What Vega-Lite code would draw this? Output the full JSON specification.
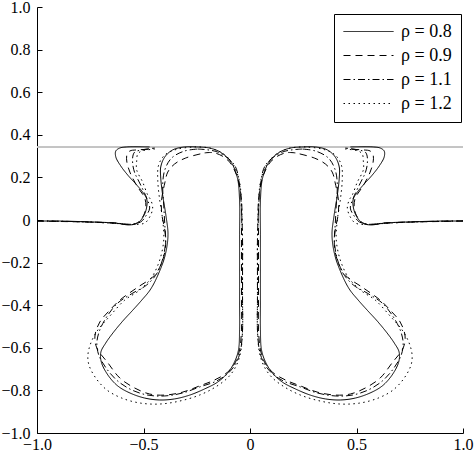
{
  "$schema": "https://vega.github.io/schema/vega-lite/v6.json",
  "width": 426,
  "height": 426,
  "autosize": "none",
  "padding": {"left": 37, "top": 7, "right": 11, "bottom": 19},
  "background": "white",
  "view": {"stroke": null},
  "config": {
    "axis": {
      "grid": false,
      "title": null,
      "domainColor": "black",
      "tickColor": "black",
      "tickSize": -5,
      "labelFont": "Liberation Serif, Times New Roman, DejaVu Serif, serif",
      "labelFontSize": 16,
      "labelColor": "black"
    }
  },
  "data": {
    "values": [
      {"rho": "0.8", "part": "Lear", "i": 0, "x": -1.0, "y": -0.005},
      {"rho": "0.8", "part": "Lear", "i": 1, "x": -0.892, "y": -0.005},
      {"rho": "0.8", "part": "Lear", "i": 2, "x": -0.752, "y": -0.009},
      {"rho": "0.8", "part": "Lear", "i": 3, "x": -0.635, "y": -0.014},
      {"rho": "0.8", "part": "Lear", "i": 4, "x": -0.564, "y": -0.023},
      {"rho": "0.8", "part": "Lear", "i": 5, "x": -0.527, "y": -0.014},
      {"rho": "0.8", "part": "Lear", "i": 6, "x": -0.499, "y": 0.019},
      {"rho": "0.8", "part": "Lear", "i": 7, "x": -0.485, "y": 0.061},
      {"rho": "0.8", "part": "Lear", "i": 8, "x": -0.485, "y": 0.099},
      {"rho": "0.8", "part": "Lear", "i": 9, "x": -0.504, "y": 0.131},
      {"rho": "0.8", "part": "Lear", "i": 10, "x": -0.536, "y": 0.169},
      {"rho": "0.8", "part": "Lear", "i": 11, "x": -0.574, "y": 0.211},
      {"rho": "0.8", "part": "Lear", "i": 12, "x": -0.607, "y": 0.254},
      {"rho": "0.8", "part": "Lear", "i": 13, "x": -0.630, "y": 0.296},
      {"rho": "0.8", "part": "Lear", "i": 14, "x": -0.630, "y": 0.324},
      {"rho": "0.8", "part": "Lear", "i": 15, "x": -0.611, "y": 0.338},
      {"rho": "0.8", "part": "Lear", "i": 16, "x": -0.578, "y": 0.343},
      {"rho": "0.8", "part": "Lear", "i": 17, "x": -0.471, "y": 0.343},

      {"rho": "0.8", "part": "Rear", "i": 0, "x": 1.0, "y": -0.005},
      {"rho": "0.8", "part": "Rear", "i": 1, "x": 0.892, "y": -0.005},
      {"rho": "0.8", "part": "Rear", "i": 2, "x": 0.752, "y": -0.009},
      {"rho": "0.8", "part": "Rear", "i": 3, "x": 0.635, "y": -0.014},
      {"rho": "0.8", "part": "Rear", "i": 4, "x": 0.564, "y": -0.023},
      {"rho": "0.8", "part": "Rear", "i": 5, "x": 0.527, "y": -0.014},
      {"rho": "0.8", "part": "Rear", "i": 6, "x": 0.499, "y": 0.019},
      {"rho": "0.8", "part": "Rear", "i": 7, "x": 0.485, "y": 0.061},
      {"rho": "0.8", "part": "Rear", "i": 8, "x": 0.485, "y": 0.099},
      {"rho": "0.8", "part": "Rear", "i": 9, "x": 0.504, "y": 0.131},
      {"rho": "0.8", "part": "Rear", "i": 10, "x": 0.536, "y": 0.169},
      {"rho": "0.8", "part": "Rear", "i": 11, "x": 0.574, "y": 0.211},
      {"rho": "0.8", "part": "Rear", "i": 12, "x": 0.607, "y": 0.254},
      {"rho": "0.8", "part": "Rear", "i": 13, "x": 0.630, "y": 0.296},
      {"rho": "0.8", "part": "Rear", "i": 14, "x": 0.630, "y": 0.324},
      {"rho": "0.8", "part": "Rear", "i": 15, "x": 0.611, "y": 0.338},
      {"rho": "0.8", "part": "Rear", "i": 16, "x": 0.578, "y": 0.343},
      {"rho": "0.8", "part": "Rear", "i": 17, "x": 0.471, "y": 0.343},

      {"rho": "0.8", "part": "Llobe", "i": 0, "x": -0.251, "y": 0.343},
      {"rho": "0.8", "part": "Llobe", "i": 1, "x": -0.190, "y": 0.338},
      {"rho": "0.8", "part": "Llobe", "i": 2, "x": -0.133, "y": 0.315},
      {"rho": "0.8", "part": "Llobe", "i": 3, "x": -0.087, "y": 0.268},
      {"rho": "0.8", "part": "Llobe", "i": 4, "x": -0.059, "y": 0.197},
      {"rho": "0.8", "part": "Llobe", "i": 5, "x": -0.049, "y": 0.094},
      {"rho": "0.8", "part": "Llobe", "i": 6, "x": -0.049, "y": -0.070},
      {"rho": "0.8", "part": "Llobe", "i": 7, "x": -0.049, "y": -0.235},
      {"rho": "0.8", "part": "Llobe", "i": 8, "x": -0.049, "y": -0.376},
      {"rho": "0.8", "part": "Llobe", "i": 9, "x": -0.049, "y": -0.516},
      {"rho": "0.8", "part": "Llobe", "i": 10, "x": -0.054, "y": -0.610},
      {"rho": "0.8", "part": "Llobe", "i": 11, "x": -0.073, "y": -0.667},
      {"rho": "0.8", "part": "Llobe", "i": 12, "x": -0.105, "y": -0.718},
      {"rho": "0.8", "part": "Llobe", "i": 13, "x": -0.152, "y": -0.761},
      {"rho": "0.8", "part": "Llobe", "i": 14, "x": -0.213, "y": -0.793},
      {"rho": "0.8", "part": "Llobe", "i": 15, "x": -0.283, "y": -0.822},
      {"rho": "0.8", "part": "Llobe", "i": 16, "x": -0.354, "y": -0.840},
      {"rho": "0.8", "part": "Llobe", "i": 17, "x": -0.424, "y": -0.845},
      {"rho": "0.8", "part": "Llobe", "i": 18, "x": -0.494, "y": -0.836},
      {"rho": "0.8", "part": "Llobe", "i": 19, "x": -0.564, "y": -0.812},
      {"rho": "0.8", "part": "Llobe", "i": 20, "x": -0.621, "y": -0.779},
      {"rho": "0.8", "part": "Llobe", "i": 21, "x": -0.667, "y": -0.728},
      {"rho": "0.8", "part": "Llobe", "i": 22, "x": -0.698, "y": -0.667},
      {"rho": "0.8", "part": "Llobe", "i": 23, "x": -0.700, "y": -0.620},
      {"rho": "0.8", "part": "Llobe", "i": 24, "x": -0.677, "y": -0.577},
      {"rho": "0.8", "part": "Llobe", "i": 25, "x": -0.644, "y": -0.531},
      {"rho": "0.8", "part": "Llobe", "i": 26, "x": -0.597, "y": -0.474},
      {"rho": "0.8", "part": "Llobe", "i": 27, "x": -0.550, "y": -0.423},
      {"rho": "0.8", "part": "Llobe", "i": 28, "x": -0.508, "y": -0.376},
      {"rho": "0.8", "part": "Llobe", "i": 29, "x": -0.466, "y": -0.324},
      {"rho": "0.8", "part": "Llobe", "i": 30, "x": -0.426, "y": -0.244},
      {"rho": "0.8", "part": "Llobe", "i": 31, "x": -0.398, "y": -0.164},
      {"rho": "0.8", "part": "Llobe", "i": 32, "x": -0.385, "y": -0.070},
      {"rho": "0.8", "part": "Llobe", "i": 33, "x": -0.395, "y": 0.023},
      {"rho": "0.8", "part": "Llobe", "i": 34, "x": -0.410, "y": 0.117},
      {"rho": "0.8", "part": "Llobe", "i": 35, "x": -0.419, "y": 0.197},
      {"rho": "0.8", "part": "Llobe", "i": 36, "x": -0.419, "y": 0.249},
      {"rho": "0.8", "part": "Llobe", "i": 37, "x": -0.400, "y": 0.296},
      {"rho": "0.8", "part": "Llobe", "i": 38, "x": -0.363, "y": 0.329},
      {"rho": "0.8", "part": "Llobe", "i": 39, "x": -0.307, "y": 0.343},
      {"rho": "0.8", "part": "Llobe", "i": 40, "x": -0.251, "y": 0.343},

      {"rho": "0.8", "part": "Rlobe", "i": 0, "x": 0.251, "y": 0.343},
      {"rho": "0.8", "part": "Rlobe", "i": 1, "x": 0.190, "y": 0.338},
      {"rho": "0.8", "part": "Rlobe", "i": 2, "x": 0.133, "y": 0.315},
      {"rho": "0.8", "part": "Rlobe", "i": 3, "x": 0.087, "y": 0.268},
      {"rho": "0.8", "part": "Rlobe", "i": 4, "x": 0.059, "y": 0.197},
      {"rho": "0.8", "part": "Rlobe", "i": 5, "x": 0.049, "y": 0.094},
      {"rho": "0.8", "part": "Rlobe", "i": 6, "x": 0.049, "y": -0.070},
      {"rho": "0.8", "part": "Rlobe", "i": 7, "x": 0.049, "y": -0.235},
      {"rho": "0.8", "part": "Rlobe", "i": 8, "x": 0.049, "y": -0.376},
      {"rho": "0.8", "part": "Rlobe", "i": 9, "x": 0.049, "y": -0.516},
      {"rho": "0.8", "part": "Rlobe", "i": 10, "x": 0.054, "y": -0.610},
      {"rho": "0.8", "part": "Rlobe", "i": 11, "x": 0.073, "y": -0.667},
      {"rho": "0.8", "part": "Rlobe", "i": 12, "x": 0.105, "y": -0.718},
      {"rho": "0.8", "part": "Rlobe", "i": 13, "x": 0.152, "y": -0.761},
      {"rho": "0.8", "part": "Rlobe", "i": 14, "x": 0.213, "y": -0.793},
      {"rho": "0.8", "part": "Rlobe", "i": 15, "x": 0.283, "y": -0.822},
      {"rho": "0.8", "part": "Rlobe", "i": 16, "x": 0.354, "y": -0.840},
      {"rho": "0.8", "part": "Rlobe", "i": 17, "x": 0.424, "y": -0.845},
      {"rho": "0.8", "part": "Rlobe", "i": 18, "x": 0.494, "y": -0.836},
      {"rho": "0.8", "part": "Rlobe", "i": 19, "x": 0.564, "y": -0.812},
      {"rho": "0.8", "part": "Rlobe", "i": 20, "x": 0.621, "y": -0.779},
      {"rho": "0.8", "part": "Rlobe", "i": 21, "x": 0.667, "y": -0.728},
      {"rho": "0.8", "part": "Rlobe", "i": 22, "x": 0.698, "y": -0.667},
      {"rho": "0.8", "part": "Rlobe", "i": 23, "x": 0.700, "y": -0.620},
      {"rho": "0.8", "part": "Rlobe", "i": 24, "x": 0.677, "y": -0.577},
      {"rho": "0.8", "part": "Rlobe", "i": 25, "x": 0.644, "y": -0.531},
      {"rho": "0.8", "part": "Rlobe", "i": 26, "x": 0.597, "y": -0.474},
      {"rho": "0.8", "part": "Rlobe", "i": 27, "x": 0.550, "y": -0.423},
      {"rho": "0.8", "part": "Rlobe", "i": 28, "x": 0.508, "y": -0.376},
      {"rho": "0.8", "part": "Rlobe", "i": 29, "x": 0.466, "y": -0.324},
      {"rho": "0.8", "part": "Rlobe", "i": 30, "x": 0.426, "y": -0.244},
      {"rho": "0.8", "part": "Rlobe", "i": 31, "x": 0.398, "y": -0.164},
      {"rho": "0.8", "part": "Rlobe", "i": 32, "x": 0.385, "y": -0.070},
      {"rho": "0.8", "part": "Rlobe", "i": 33, "x": 0.395, "y": 0.023},
      {"rho": "0.8", "part": "Rlobe", "i": 34, "x": 0.410, "y": 0.117},
      {"rho": "0.8", "part": "Rlobe", "i": 35, "x": 0.419, "y": 0.197},
      {"rho": "0.8", "part": "Rlobe", "i": 36, "x": 0.419, "y": 0.249},
      {"rho": "0.8", "part": "Rlobe", "i": 37, "x": 0.400, "y": 0.296},
      {"rho": "0.8", "part": "Rlobe", "i": 38, "x": 0.363, "y": 0.329},
      {"rho": "0.8", "part": "Rlobe", "i": 39, "x": 0.307, "y": 0.343},
      {"rho": "0.8", "part": "Rlobe", "i": 40, "x": 0.251, "y": 0.343},

      {"rho": "0.9", "part": "Lear", "i": 0, "x": -1.0, "y": -0.005},
      {"rho": "0.9", "part": "Lear", "i": 1, "x": -0.892, "y": -0.007},
      {"rho": "0.9", "part": "Lear", "i": 2, "x": -0.752, "y": -0.010},
      {"rho": "0.9", "part": "Lear", "i": 3, "x": -0.635, "y": -0.015},
      {"rho": "0.9", "part": "Lear", "i": 4, "x": -0.564, "y": -0.021},
      {"rho": "0.9", "part": "Lear", "i": 5, "x": -0.527, "y": -0.012},
      {"rho": "0.9", "part": "Lear", "i": 6, "x": -0.499, "y": 0.023},
      {"rho": "0.9", "part": "Lear", "i": 7, "x": -0.489, "y": 0.061},
      {"rho": "0.9", "part": "Lear", "i": 8, "x": -0.494, "y": 0.103},
      {"rho": "0.9", "part": "Lear", "i": 9, "x": -0.518, "y": 0.141},
      {"rho": "0.9", "part": "Lear", "i": 10, "x": -0.541, "y": 0.178},
      {"rho": "0.9", "part": "Lear", "i": 11, "x": -0.564, "y": 0.225},
      {"rho": "0.9", "part": "Lear", "i": 12, "x": -0.578, "y": 0.272},
      {"rho": "0.9", "part": "Lear", "i": 13, "x": -0.578, "y": 0.305},
      {"rho": "0.9", "part": "Lear", "i": 14, "x": -0.564, "y": 0.324},
      {"rho": "0.9", "part": "Lear", "i": 15, "x": -0.532, "y": 0.329},
      {"rho": "0.9", "part": "Lear", "i": 16, "x": -0.471, "y": 0.333},
      {"rho": "0.9", "part": "Lear", "i": 17, "x": -0.447, "y": 0.338},

      {"rho": "0.9", "part": "Rear", "i": 0, "x": 1.0, "y": -0.005},
      {"rho": "0.9", "part": "Rear", "i": 1, "x": 0.892, "y": -0.007},
      {"rho": "0.9", "part": "Rear", "i": 2, "x": 0.752, "y": -0.010},
      {"rho": "0.9", "part": "Rear", "i": 3, "x": 0.635, "y": -0.015},
      {"rho": "0.9", "part": "Rear", "i": 4, "x": 0.564, "y": -0.021},
      {"rho": "0.9", "part": "Rear", "i": 5, "x": 0.527, "y": -0.012},
      {"rho": "0.9", "part": "Rear", "i": 6, "x": 0.499, "y": 0.023},
      {"rho": "0.9", "part": "Rear", "i": 7, "x": 0.489, "y": 0.061},
      {"rho": "0.9", "part": "Rear", "i": 8, "x": 0.494, "y": 0.103},
      {"rho": "0.9", "part": "Rear", "i": 9, "x": 0.518, "y": 0.141},
      {"rho": "0.9", "part": "Rear", "i": 10, "x": 0.541, "y": 0.178},
      {"rho": "0.9", "part": "Rear", "i": 11, "x": 0.564, "y": 0.225},
      {"rho": "0.9", "part": "Rear", "i": 12, "x": 0.578, "y": 0.272},
      {"rho": "0.9", "part": "Rear", "i": 13, "x": 0.578, "y": 0.305},
      {"rho": "0.9", "part": "Rear", "i": 14, "x": 0.564, "y": 0.324},
      {"rho": "0.9", "part": "Rear", "i": 15, "x": 0.532, "y": 0.329},
      {"rho": "0.9", "part": "Rear", "i": 16, "x": 0.471, "y": 0.333},
      {"rho": "0.9", "part": "Rear", "i": 17, "x": 0.447, "y": 0.338},

      {"rho": "0.9", "part": "Llobe", "i": 0, "x": -0.213, "y": 0.315},
      {"rho": "0.9", "part": "Llobe", "i": 1, "x": -0.166, "y": 0.315},
      {"rho": "0.9", "part": "Llobe", "i": 2, "x": -0.105, "y": 0.282},
      {"rho": "0.9", "part": "Llobe", "i": 3, "x": -0.063, "y": 0.211},
      {"rho": "0.9", "part": "Llobe", "i": 4, "x": -0.040, "y": 0.094},
      {"rho": "0.9", "part": "Llobe", "i": 5, "x": -0.040, "y": -0.070},
      {"rho": "0.9", "part": "Llobe", "i": 6, "x": -0.040, "y": -0.235},
      {"rho": "0.9", "part": "Llobe", "i": 7, "x": -0.040, "y": -0.376},
      {"rho": "0.9", "part": "Llobe", "i": 8, "x": -0.040, "y": -0.516},
      {"rho": "0.9", "part": "Llobe", "i": 9, "x": -0.049, "y": -0.610},
      {"rho": "0.9", "part": "Llobe", "i": 10, "x": -0.068, "y": -0.667},
      {"rho": "0.9", "part": "Llobe", "i": 11, "x": -0.105, "y": -0.714},
      {"rho": "0.9", "part": "Llobe", "i": 12, "x": -0.166, "y": -0.751},
      {"rho": "0.9", "part": "Llobe", "i": 13, "x": -0.237, "y": -0.779},
      {"rho": "0.9", "part": "Llobe", "i": 14, "x": -0.316, "y": -0.808},
      {"rho": "0.9", "part": "Llobe", "i": 15, "x": -0.400, "y": -0.822},
      {"rho": "0.9", "part": "Llobe", "i": 16, "x": -0.471, "y": -0.817},
      {"rho": "0.9", "part": "Llobe", "i": 17, "x": -0.541, "y": -0.789},
      {"rho": "0.9", "part": "Llobe", "i": 18, "x": -0.611, "y": -0.742},
      {"rho": "0.9", "part": "Llobe", "i": 19, "x": -0.667, "y": -0.671},
      {"rho": "0.9", "part": "Llobe", "i": 20, "x": -0.719, "y": -0.601},
      {"rho": "0.9", "part": "Llobe", "i": 21, "x": -0.728, "y": -0.545},
      {"rho": "0.9", "part": "Llobe", "i": 22, "x": -0.705, "y": -0.479},
      {"rho": "0.9", "part": "Llobe", "i": 23, "x": -0.658, "y": -0.423},
      {"rho": "0.9", "part": "Llobe", "i": 24, "x": -0.611, "y": -0.376},
      {"rho": "0.9", "part": "Llobe", "i": 25, "x": -0.532, "y": -0.319},
      {"rho": "0.9", "part": "Llobe", "i": 26, "x": -0.447, "y": -0.258},
      {"rho": "0.9", "part": "Llobe", "i": 27, "x": -0.410, "y": -0.188},
      {"rho": "0.9", "part": "Llobe", "i": 28, "x": -0.396, "y": -0.117},
      {"rho": "0.9", "part": "Llobe", "i": 29, "x": -0.400, "y": -0.047},
      {"rho": "0.9", "part": "Llobe", "i": 30, "x": -0.415, "y": 0.033},
      {"rho": "0.9", "part": "Llobe", "i": 31, "x": -0.415, "y": 0.094},
      {"rho": "0.9", "part": "Llobe", "i": 32, "x": -0.400, "y": 0.174},
      {"rho": "0.9", "part": "Llobe", "i": 33, "x": -0.386, "y": 0.225},
      {"rho": "0.9", "part": "Llobe", "i": 34, "x": -0.354, "y": 0.263},
      {"rho": "0.9", "part": "Llobe", "i": 35, "x": -0.302, "y": 0.291},
      {"rho": "0.9", "part": "Llobe", "i": 36, "x": -0.213, "y": 0.315},

      {"rho": "0.9", "part": "Rlobe", "i": 0, "x": 0.213, "y": 0.315},
      {"rho": "0.9", "part": "Rlobe", "i": 1, "x": 0.166, "y": 0.315},
      {"rho": "0.9", "part": "Rlobe", "i": 2, "x": 0.105, "y": 0.282},
      {"rho": "0.9", "part": "Rlobe", "i": 3, "x": 0.063, "y": 0.211},
      {"rho": "0.9", "part": "Rlobe", "i": 4, "x": 0.040, "y": 0.094},
      {"rho": "0.9", "part": "Rlobe", "i": 5, "x": 0.040, "y": -0.070},
      {"rho": "0.9", "part": "Rlobe", "i": 6, "x": 0.040, "y": -0.235},
      {"rho": "0.9", "part": "Rlobe", "i": 7, "x": 0.040, "y": -0.376},
      {"rho": "0.9", "part": "Rlobe", "i": 8, "x": 0.040, "y": -0.516},
      {"rho": "0.9", "part": "Rlobe", "i": 9, "x": 0.049, "y": -0.610},
      {"rho": "0.9", "part": "Rlobe", "i": 10, "x": 0.068, "y": -0.667},
      {"rho": "0.9", "part": "Rlobe", "i": 11, "x": 0.105, "y": -0.714},
      {"rho": "0.9", "part": "Rlobe", "i": 12, "x": 0.166, "y": -0.751},
      {"rho": "0.9", "part": "Rlobe", "i": 13, "x": 0.237, "y": -0.779},
      {"rho": "0.9", "part": "Rlobe", "i": 14, "x": 0.316, "y": -0.808},
      {"rho": "0.9", "part": "Rlobe", "i": 15, "x": 0.400, "y": -0.822},
      {"rho": "0.9", "part": "Rlobe", "i": 16, "x": 0.471, "y": -0.817},
      {"rho": "0.9", "part": "Rlobe", "i": 17, "x": 0.541, "y": -0.789},
      {"rho": "0.9", "part": "Rlobe", "i": 18, "x": 0.611, "y": -0.742},
      {"rho": "0.9", "part": "Rlobe", "i": 19, "x": 0.667, "y": -0.671},
      {"rho": "0.9", "part": "Rlobe", "i": 20, "x": 0.719, "y": -0.601},
      {"rho": "0.9", "part": "Rlobe", "i": 21, "x": 0.728, "y": -0.545},
      {"rho": "0.9", "part": "Rlobe", "i": 22, "x": 0.705, "y": -0.479},
      {"rho": "0.9", "part": "Rlobe", "i": 23, "x": 0.658, "y": -0.423},
      {"rho": "0.9", "part": "Rlobe", "i": 24, "x": 0.611, "y": -0.376},
      {"rho": "0.9", "part": "Rlobe", "i": 25, "x": 0.532, "y": -0.319},
      {"rho": "0.9", "part": "Rlobe", "i": 26, "x": 0.447, "y": -0.258},
      {"rho": "0.9", "part": "Rlobe", "i": 27, "x": 0.410, "y": -0.188},
      {"rho": "0.9", "part": "Rlobe", "i": 28, "x": 0.396, "y": -0.117},
      {"rho": "0.9", "part": "Rlobe", "i": 29, "x": 0.400, "y": -0.047},
      {"rho": "0.9", "part": "Rlobe", "i": 30, "x": 0.415, "y": 0.033},
      {"rho": "0.9", "part": "Rlobe", "i": 31, "x": 0.415, "y": 0.094},
      {"rho": "0.9", "part": "Rlobe", "i": 32, "x": 0.400, "y": 0.174},
      {"rho": "0.9", "part": "Rlobe", "i": 33, "x": 0.386, "y": 0.225},
      {"rho": "0.9", "part": "Rlobe", "i": 34, "x": 0.354, "y": 0.263},
      {"rho": "0.9", "part": "Rlobe", "i": 35, "x": 0.302, "y": 0.291},
      {"rho": "0.9", "part": "Rlobe", "i": 36, "x": 0.213, "y": 0.315},

      {"rho": "1.1", "part": "Lear", "i": 0, "x": -1.0, "y": -0.004},
      {"rho": "1.1", "part": "Lear", "i": 1, "x": -0.892, "y": -0.006},
      {"rho": "1.1", "part": "Lear", "i": 2, "x": -0.752, "y": -0.009},
      {"rho": "1.1", "part": "Lear", "i": 3, "x": -0.635, "y": -0.014},
      {"rho": "1.1", "part": "Lear", "i": 4, "x": -0.555, "y": -0.020},
      {"rho": "1.1", "part": "Lear", "i": 5, "x": -0.513, "y": -0.009},
      {"rho": "1.1", "part": "Lear", "i": 6, "x": -0.489, "y": 0.019},
      {"rho": "1.1", "part": "Lear", "i": 7, "x": -0.471, "y": 0.056},
      {"rho": "1.1", "part": "Lear", "i": 8, "x": -0.485, "y": 0.103},
      {"rho": "1.1", "part": "Lear", "i": 9, "x": -0.518, "y": 0.174},
      {"rho": "1.1", "part": "Lear", "i": 10, "x": -0.541, "y": 0.221},
      {"rho": "1.1", "part": "Lear", "i": 11, "x": -0.550, "y": 0.258},
      {"rho": "1.1", "part": "Lear", "i": 12, "x": -0.550, "y": 0.300},
      {"rho": "1.1", "part": "Lear", "i": 13, "x": -0.541, "y": 0.319},
      {"rho": "1.1", "part": "Lear", "i": 14, "x": -0.508, "y": 0.329},
      {"rho": "1.1", "part": "Lear", "i": 15, "x": -0.447, "y": 0.338},

      {"rho": "1.1", "part": "Rear", "i": 0, "x": 1.0, "y": -0.004},
      {"rho": "1.1", "part": "Rear", "i": 1, "x": 0.892, "y": -0.006},
      {"rho": "1.1", "part": "Rear", "i": 2, "x": 0.752, "y": -0.009},
      {"rho": "1.1", "part": "Rear", "i": 3, "x": 0.635, "y": -0.014},
      {"rho": "1.1", "part": "Rear", "i": 4, "x": 0.555, "y": -0.020},
      {"rho": "1.1", "part": "Rear", "i": 5, "x": 0.513, "y": -0.009},
      {"rho": "1.1", "part": "Rear", "i": 6, "x": 0.489, "y": 0.019},
      {"rho": "1.1", "part": "Rear", "i": 7, "x": 0.471, "y": 0.056},
      {"rho": "1.1", "part": "Rear", "i": 8, "x": 0.485, "y": 0.103},
      {"rho": "1.1", "part": "Rear", "i": 9, "x": 0.518, "y": 0.174},
      {"rho": "1.1", "part": "Rear", "i": 10, "x": 0.541, "y": 0.221},
      {"rho": "1.1", "part": "Rear", "i": 11, "x": 0.550, "y": 0.258},
      {"rho": "1.1", "part": "Rear", "i": 12, "x": 0.550, "y": 0.300},
      {"rho": "1.1", "part": "Rear", "i": 13, "x": 0.541, "y": 0.319},
      {"rho": "1.1", "part": "Rear", "i": 14, "x": 0.508, "y": 0.329},
      {"rho": "1.1", "part": "Rear", "i": 15, "x": 0.447, "y": 0.338},

      {"rho": "1.1", "part": "Llobe", "i": 0, "x": -0.246, "y": 0.333},
      {"rho": "1.1", "part": "Llobe", "i": 1, "x": -0.152, "y": 0.319},
      {"rho": "1.1", "part": "Llobe", "i": 2, "x": -0.073, "y": 0.258},
      {"rho": "1.1", "part": "Llobe", "i": 3, "x": -0.049, "y": 0.164},
      {"rho": "1.1", "part": "Llobe", "i": 4, "x": -0.040, "y": 0.047},
      {"rho": "1.1", "part": "Llobe", "i": 5, "x": -0.035, "y": -0.094},
      {"rho": "1.1", "part": "Llobe", "i": 6, "x": -0.035, "y": -0.235},
      {"rho": "1.1", "part": "Llobe", "i": 7, "x": -0.035, "y": -0.376},
      {"rho": "1.1", "part": "Llobe", "i": 8, "x": -0.035, "y": -0.516},
      {"rho": "1.1", "part": "Llobe", "i": 9, "x": -0.044, "y": -0.610},
      {"rho": "1.1", "part": "Llobe", "i": 10, "x": -0.063, "y": -0.667},
      {"rho": "1.1", "part": "Llobe", "i": 11, "x": -0.101, "y": -0.718},
      {"rho": "1.1", "part": "Llobe", "i": 12, "x": -0.157, "y": -0.756},
      {"rho": "1.1", "part": "Llobe", "i": 13, "x": -0.237, "y": -0.784},
      {"rho": "1.1", "part": "Llobe", "i": 14, "x": -0.316, "y": -0.812},
      {"rho": "1.1", "part": "Llobe", "i": 15, "x": -0.400, "y": -0.826},
      {"rho": "1.1", "part": "Llobe", "i": 16, "x": -0.480, "y": -0.822},
      {"rho": "1.1", "part": "Llobe", "i": 17, "x": -0.555, "y": -0.798},
      {"rho": "1.1", "part": "Llobe", "i": 18, "x": -0.621, "y": -0.756},
      {"rho": "1.1", "part": "Llobe", "i": 19, "x": -0.672, "y": -0.700},
      {"rho": "1.1", "part": "Llobe", "i": 20, "x": -0.710, "y": -0.634},
      {"rho": "1.1", "part": "Llobe", "i": 21, "x": -0.719, "y": -0.577},
      {"rho": "1.1", "part": "Llobe", "i": 22, "x": -0.705, "y": -0.516},
      {"rho": "1.1", "part": "Llobe", "i": 23, "x": -0.667, "y": -0.446},
      {"rho": "1.1", "part": "Llobe", "i": 24, "x": -0.621, "y": -0.390},
      {"rho": "1.1", "part": "Llobe", "i": 25, "x": -0.550, "y": -0.343},
      {"rho": "1.1", "part": "Llobe", "i": 26, "x": -0.485, "y": -0.305},
      {"rho": "1.1", "part": "Llobe", "i": 27, "x": -0.433, "y": -0.244},
      {"rho": "1.1", "part": "Llobe", "i": 28, "x": -0.405, "y": -0.164},
      {"rho": "1.1", "part": "Llobe", "i": 29, "x": -0.396, "y": -0.094},
      {"rho": "1.1", "part": "Llobe", "i": 30, "x": -0.400, "y": -0.023},
      {"rho": "1.1", "part": "Llobe", "i": 31, "x": -0.405, "y": 0.070},
      {"rho": "1.1", "part": "Llobe", "i": 32, "x": -0.410, "y": 0.164},
      {"rho": "1.1", "part": "Llobe", "i": 33, "x": -0.400, "y": 0.235},
      {"rho": "1.1", "part": "Llobe", "i": 34, "x": -0.368, "y": 0.291},
      {"rho": "1.1", "part": "Llobe", "i": 35, "x": -0.307, "y": 0.324},
      {"rho": "1.1", "part": "Llobe", "i": 36, "x": -0.246, "y": 0.333},

      {"rho": "1.1", "part": "Rlobe", "i": 0, "x": 0.246, "y": 0.333},
      {"rho": "1.1", "part": "Rlobe", "i": 1, "x": 0.152, "y": 0.319},
      {"rho": "1.1", "part": "Rlobe", "i": 2, "x": 0.073, "y": 0.258},
      {"rho": "1.1", "part": "Rlobe", "i": 3, "x": 0.049, "y": 0.164},
      {"rho": "1.1", "part": "Rlobe", "i": 4, "x": 0.040, "y": 0.047},
      {"rho": "1.1", "part": "Rlobe", "i": 5, "x": 0.035, "y": -0.094},
      {"rho": "1.1", "part": "Rlobe", "i": 6, "x": 0.035, "y": -0.235},
      {"rho": "1.1", "part": "Rlobe", "i": 7, "x": 0.035, "y": -0.376},
      {"rho": "1.1", "part": "Rlobe", "i": 8, "x": 0.035, "y": -0.516},
      {"rho": "1.1", "part": "Rlobe", "i": 9, "x": 0.044, "y": -0.610},
      {"rho": "1.1", "part": "Rlobe", "i": 10, "x": 0.063, "y": -0.667},
      {"rho": "1.1", "part": "Rlobe", "i": 11, "x": 0.101, "y": -0.718},
      {"rho": "1.1", "part": "Rlobe", "i": 12, "x": 0.157, "y": -0.756},
      {"rho": "1.1", "part": "Rlobe", "i": 13, "x": 0.237, "y": -0.784},
      {"rho": "1.1", "part": "Rlobe", "i": 14, "x": 0.316, "y": -0.812},
      {"rho": "1.1", "part": "Rlobe", "i": 15, "x": 0.400, "y": -0.826},
      {"rho": "1.1", "part": "Rlobe", "i": 16, "x": 0.480, "y": -0.822},
      {"rho": "1.1", "part": "Rlobe", "i": 17, "x": 0.555, "y": -0.798},
      {"rho": "1.1", "part": "Rlobe", "i": 18, "x": 0.621, "y": -0.756},
      {"rho": "1.1", "part": "Rlobe", "i": 19, "x": 0.672, "y": -0.700},
      {"rho": "1.1", "part": "Rlobe", "i": 20, "x": 0.710, "y": -0.634},
      {"rho": "1.1", "part": "Rlobe", "i": 21, "x": 0.719, "y": -0.577},
      {"rho": "1.1", "part": "Rlobe", "i": 22, "x": 0.705, "y": -0.516},
      {"rho": "1.1", "part": "Rlobe", "i": 23, "x": 0.667, "y": -0.446},
      {"rho": "1.1", "part": "Rlobe", "i": 24, "x": 0.621, "y": -0.390},
      {"rho": "1.1", "part": "Rlobe", "i": 25, "x": 0.550, "y": -0.343},
      {"rho": "1.1", "part": "Rlobe", "i": 26, "x": 0.485, "y": -0.305},
      {"rho": "1.1", "part": "Rlobe", "i": 27, "x": 0.433, "y": -0.244},
      {"rho": "1.1", "part": "Rlobe", "i": 28, "x": 0.405, "y": -0.164},
      {"rho": "1.1", "part": "Rlobe", "i": 29, "x": 0.396, "y": -0.094},
      {"rho": "1.1", "part": "Rlobe", "i": 30, "x": 0.400, "y": -0.023},
      {"rho": "1.1", "part": "Rlobe", "i": 31, "x": 0.405, "y": 0.070},
      {"rho": "1.1", "part": "Rlobe", "i": 32, "x": 0.410, "y": 0.164},
      {"rho": "1.1", "part": "Rlobe", "i": 33, "x": 0.400, "y": 0.235},
      {"rho": "1.1", "part": "Rlobe", "i": 34, "x": 0.368, "y": 0.291},
      {"rho": "1.1", "part": "Rlobe", "i": 35, "x": 0.307, "y": 0.324},
      {"rho": "1.1", "part": "Rlobe", "i": 36, "x": 0.246, "y": 0.333},

      {"rho": "1.2", "part": "Lear", "i": 0, "x": -1.0, "y": -0.004},
      {"rho": "1.2", "part": "Lear", "i": 1, "x": -0.892, "y": -0.006},
      {"rho": "1.2", "part": "Lear", "i": 2, "x": -0.752, "y": -0.010},
      {"rho": "1.2", "part": "Lear", "i": 3, "x": -0.635, "y": -0.016},
      {"rho": "1.2", "part": "Lear", "i": 4, "x": -0.541, "y": -0.021},
      {"rho": "1.2", "part": "Lear", "i": 5, "x": -0.494, "y": -0.014},
      {"rho": "1.2", "part": "Lear", "i": 6, "x": -0.471, "y": 0.014},
      {"rho": "1.2", "part": "Lear", "i": 7, "x": -0.457, "y": 0.056},
      {"rho": "1.2", "part": "Lear", "i": 8, "x": -0.466, "y": 0.094},
      {"rho": "1.2", "part": "Lear", "i": 9, "x": -0.480, "y": 0.117},
      {"rho": "1.2", "part": "Lear", "i": 10, "x": -0.504, "y": 0.178},
      {"rho": "1.2", "part": "Lear", "i": 11, "x": -0.532, "y": 0.235},
      {"rho": "1.2", "part": "Lear", "i": 12, "x": -0.532, "y": 0.277},
      {"rho": "1.2", "part": "Lear", "i": 13, "x": -0.527, "y": 0.310},
      {"rho": "1.2", "part": "Lear", "i": 14, "x": -0.508, "y": 0.324},
      {"rho": "1.2", "part": "Lear", "i": 15, "x": -0.447, "y": 0.333},

      {"rho": "1.2", "part": "Rear", "i": 0, "x": 1.0, "y": -0.004},
      {"rho": "1.2", "part": "Rear", "i": 1, "x": 0.892, "y": -0.006},
      {"rho": "1.2", "part": "Rear", "i": 2, "x": 0.752, "y": -0.010},
      {"rho": "1.2", "part": "Rear", "i": 3, "x": 0.635, "y": -0.016},
      {"rho": "1.2", "part": "Rear", "i": 4, "x": 0.541, "y": -0.021},
      {"rho": "1.2", "part": "Rear", "i": 5, "x": 0.494, "y": -0.014},
      {"rho": "1.2", "part": "Rear", "i": 6, "x": 0.471, "y": 0.014},
      {"rho": "1.2", "part": "Rear", "i": 7, "x": 0.457, "y": 0.056},
      {"rho": "1.2", "part": "Rear", "i": 8, "x": 0.466, "y": 0.094},
      {"rho": "1.2", "part": "Rear", "i": 9, "x": 0.480, "y": 0.117},
      {"rho": "1.2", "part": "Rear", "i": 10, "x": 0.504, "y": 0.178},
      {"rho": "1.2", "part": "Rear", "i": 11, "x": 0.532, "y": 0.235},
      {"rho": "1.2", "part": "Rear", "i": 12, "x": 0.532, "y": 0.277},
      {"rho": "1.2", "part": "Rear", "i": 13, "x": 0.527, "y": 0.310},
      {"rho": "1.2", "part": "Rear", "i": 14, "x": 0.508, "y": 0.324},
      {"rho": "1.2", "part": "Rear", "i": 15, "x": 0.447, "y": 0.333},

      {"rho": "1.2", "part": "Llobe", "i": 0, "x": -0.260, "y": 0.343},
      {"rho": "1.2", "part": "Llobe", "i": 1, "x": -0.190, "y": 0.338},
      {"rho": "1.2", "part": "Llobe", "i": 2, "x": -0.124, "y": 0.310},
      {"rho": "1.2", "part": "Llobe", "i": 3, "x": -0.077, "y": 0.258},
      {"rho": "1.2", "part": "Llobe", "i": 4, "x": -0.049, "y": 0.178},
      {"rho": "1.2", "part": "Llobe", "i": 5, "x": -0.040, "y": 0.070},
      {"rho": "1.2", "part": "Llobe", "i": 6, "x": -0.035, "y": -0.094},
      {"rho": "1.2", "part": "Llobe", "i": 7, "x": -0.035, "y": -0.235},
      {"rho": "1.2", "part": "Llobe", "i": 8, "x": -0.035, "y": -0.376},
      {"rho": "1.2", "part": "Llobe", "i": 9, "x": -0.035, "y": -0.516},
      {"rho": "1.2", "part": "Llobe", "i": 10, "x": -0.044, "y": -0.620},
      {"rho": "1.2", "part": "Llobe", "i": 11, "x": -0.063, "y": -0.681},
      {"rho": "1.2", "part": "Llobe", "i": 12, "x": -0.101, "y": -0.737},
      {"rho": "1.2", "part": "Llobe", "i": 13, "x": -0.162, "y": -0.784},
      {"rho": "1.2", "part": "Llobe", "i": 14, "x": -0.237, "y": -0.822},
      {"rho": "1.2", "part": "Llobe", "i": 15, "x": -0.330, "y": -0.850},
      {"rho": "1.2", "part": "Llobe", "i": 16, "x": -0.424, "y": -0.864},
      {"rho": "1.2", "part": "Llobe", "i": 17, "x": -0.518, "y": -0.859},
      {"rho": "1.2", "part": "Llobe", "i": 18, "x": -0.602, "y": -0.836},
      {"rho": "1.2", "part": "Llobe", "i": 19, "x": -0.672, "y": -0.798},
      {"rho": "1.2", "part": "Llobe", "i": 20, "x": -0.724, "y": -0.742},
      {"rho": "1.2", "part": "Llobe", "i": 21, "x": -0.756, "y": -0.681},
      {"rho": "1.2", "part": "Llobe", "i": 22, "x": -0.761, "y": -0.634},
      {"rho": "1.2", "part": "Llobe", "i": 23, "x": -0.747, "y": -0.577},
      {"rho": "1.2", "part": "Llobe", "i": 24, "x": -0.714, "y": -0.516},
      {"rho": "1.2", "part": "Llobe", "i": 25, "x": -0.658, "y": -0.451},
      {"rho": "1.2", "part": "Llobe", "i": 26, "x": -0.588, "y": -0.376},
      {"rho": "1.2", "part": "Llobe", "i": 27, "x": -0.518, "y": -0.329},
      {"rho": "1.2", "part": "Llobe", "i": 28, "x": -0.461, "y": -0.268},
      {"rho": "1.2", "part": "Llobe", "i": 29, "x": -0.424, "y": -0.188},
      {"rho": "1.2", "part": "Llobe", "i": 30, "x": -0.405, "y": -0.094},
      {"rho": "1.2", "part": "Llobe", "i": 31, "x": -0.410, "y": 0.000},
      {"rho": "1.2", "part": "Llobe", "i": 32, "x": -0.424, "y": 0.094},
      {"rho": "1.2", "part": "Llobe", "i": 33, "x": -0.433, "y": 0.188},
      {"rho": "1.2", "part": "Llobe", "i": 34, "x": -0.429, "y": 0.258},
      {"rho": "1.2", "part": "Llobe", "i": 35, "x": -0.400, "y": 0.305},
      {"rho": "1.2", "part": "Llobe", "i": 36, "x": -0.340, "y": 0.333},
      {"rho": "1.2", "part": "Llobe", "i": 37, "x": -0.260, "y": 0.343},

      {"rho": "1.2", "part": "Rlobe", "i": 0, "x": 0.260, "y": 0.343},
      {"rho": "1.2", "part": "Rlobe", "i": 1, "x": 0.190, "y": 0.338},
      {"rho": "1.2", "part": "Rlobe", "i": 2, "x": 0.124, "y": 0.310},
      {"rho": "1.2", "part": "Rlobe", "i": 3, "x": 0.077, "y": 0.258},
      {"rho": "1.2", "part": "Rlobe", "i": 4, "x": 0.049, "y": 0.178},
      {"rho": "1.2", "part": "Rlobe", "i": 5, "x": 0.040, "y": 0.070},
      {"rho": "1.2", "part": "Rlobe", "i": 6, "x": 0.035, "y": -0.094},
      {"rho": "1.2", "part": "Rlobe", "i": 7, "x": 0.035, "y": -0.235},
      {"rho": "1.2", "part": "Rlobe", "i": 8, "x": 0.035, "y": -0.376},
      {"rho": "1.2", "part": "Rlobe", "i": 9, "x": 0.035, "y": -0.516},
      {"rho": "1.2", "part": "Rlobe", "i": 10, "x": 0.044, "y": -0.620},
      {"rho": "1.2", "part": "Rlobe", "i": 11, "x": 0.063, "y": -0.681},
      {"rho": "1.2", "part": "Rlobe", "i": 12, "x": 0.101, "y": -0.737},
      {"rho": "1.2", "part": "Rlobe", "i": 13, "x": 0.162, "y": -0.784},
      {"rho": "1.2", "part": "Rlobe", "i": 14, "x": 0.237, "y": -0.822},
      {"rho": "1.2", "part": "Rlobe", "i": 15, "x": 0.330, "y": -0.850},
      {"rho": "1.2", "part": "Rlobe", "i": 16, "x": 0.424, "y": -0.864},
      {"rho": "1.2", "part": "Rlobe", "i": 17, "x": 0.518, "y": -0.859},
      {"rho": "1.2", "part": "Rlobe", "i": 18, "x": 0.602, "y": -0.836},
      {"rho": "1.2", "part": "Rlobe", "i": 19, "x": 0.672, "y": -0.798},
      {"rho": "1.2", "part": "Rlobe", "i": 20, "x": 0.724, "y": -0.742},
      {"rho": "1.2", "part": "Rlobe", "i": 21, "x": 0.756, "y": -0.681},
      {"rho": "1.2", "part": "Rlobe", "i": 22, "x": 0.761, "y": -0.634},
      {"rho": "1.2", "part": "Rlobe", "i": 23, "x": 0.747, "y": -0.577},
      {"rho": "1.2", "part": "Rlobe", "i": 24, "x": 0.714, "y": -0.516},
      {"rho": "1.2", "part": "Rlobe", "i": 25, "x": 0.658, "y": -0.451},
      {"rho": "1.2", "part": "Rlobe", "i": 26, "x": 0.588, "y": -0.376},
      {"rho": "1.2", "part": "Rlobe", "i": 27, "x": 0.518, "y": -0.329},
      {"rho": "1.2", "part": "Rlobe", "i": 28, "x": 0.461, "y": -0.268},
      {"rho": "1.2", "part": "Rlobe", "i": 29, "x": 0.424, "y": -0.188},
      {"rho": "1.2", "part": "Rlobe", "i": 30, "x": 0.405, "y": -0.094},
      {"rho": "1.2", "part": "Rlobe", "i": 31, "x": 0.410, "y": 0.000},
      {"rho": "1.2", "part": "Rlobe", "i": 32, "x": 0.424, "y": 0.094},
      {"rho": "1.2", "part": "Rlobe", "i": 33, "x": 0.433, "y": 0.188},
      {"rho": "1.2", "part": "Rlobe", "i": 34, "x": 0.429, "y": 0.258},
      {"rho": "1.2", "part": "Rlobe", "i": 35, "x": 0.400, "y": 0.305},
      {"rho": "1.2", "part": "Rlobe", "i": 36, "x": 0.340, "y": 0.333},
      {"rho": "1.2", "part": "Rlobe", "i": 37, "x": 0.260, "y": 0.343}
    ]
  },
  "layer": [
    {
      "mark": {"type": "rule", "color": "#c4c4c4", "strokeWidth": 1.2},
      "encoding": {"y": {"datum": 0.344, "type": "quantitative"}}
    },
    {
      "mark": {"type": "line", "color": "black", "strokeWidth": 1, "interpolate": "catmull-rom"},
      "encoding": {
        "x": {
          "field": "x",
          "type": "quantitative",
          "scale": {"domain": [-1, 1], "nice": false, "zero": false},
          "axis": {
            "values": [-1, -0.5, 0, 0.5, 1],
            "labelExpr": "datum.value == 0 ? '0' : format(datum.value, '.1f')",
            "labelPadding": 8,
            "labelFlush": false
          }
        },
        "y": {
          "field": "y",
          "type": "quantitative",
          "scale": {"domain": [-1, 1], "nice": false, "zero": false},
          "axis": {
            "values": [-1, -0.8, -0.6, -0.4, -0.2, 0, 0.2, 0.4, 0.6, 0.8, 1],
            "labelExpr": "datum.value == 0 ? '0' : format(datum.value, '.1f')",
            "labelPadding": 12,
            "labelFlush": false
          }
        },
        "order": {"field": "i", "type": "quantitative"},
        "detail": {"field": "part", "type": "nominal"},
        "strokeDash": {
          "field": "rho",
          "type": "nominal",
          "scale": {
            "domain": ["0.8", "0.9", "1.1", "1.2"],
            "range": [[1, 0], [7, 5], [7, 3, 1.5, 3], [1.5, 3.5]]
          },
          "legend": {
            "title": null,
            "orient": "none",
            "legendX": 297,
            "legendY": 7,
            "strokeColor": "black",
            "fillColor": "white",
            "padding": 9,
            "symbolType": "stroke",
            "symbolSize": 2500,
            "symbolStrokeWidth": 1,
            "symbolStrokeColor": "black",
            "clipHeight": 17,
            "rowPadding": 5,
            "labelOffset": 7,
            "labelFont": "Liberation Serif, Times New Roman, DejaVu Serif, serif",
            "labelFontSize": 18,
            "labelColor": "black",
            "labelExpr": "'ρ = ' + datum.label"
          }
        }
      }
    }
  ]
}
